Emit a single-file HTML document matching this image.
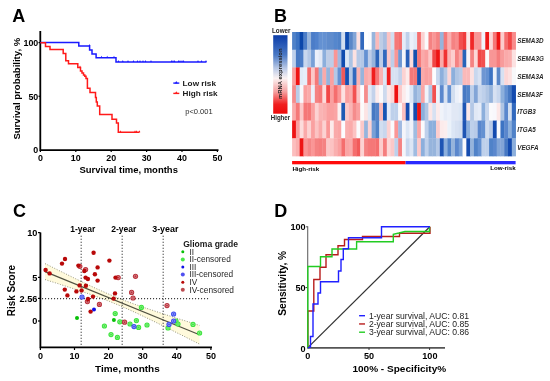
<!DOCTYPE html>
<html><head><meta charset="utf-8"><style>
html,body{margin:0;padding:0;background:#fff;}
svg{display:block;will-change:transform;}
text{font-family:"Liberation Sans",sans-serif;}
</style></head><body>
<svg width="550" height="381" viewBox="0 0 550 381">
<rect width="550" height="381" fill="#fff"/>
<text x="12.2" y="22.3" font-size="18" font-weight="bold" text-anchor="start" fill="#000" >A</text>
<path d="M40.3,31 V150.1 H218.5" fill="none" stroke="#000" stroke-width="1.8"/>
<path d="M38.5,42.6 H40.3" stroke="#000" stroke-width="1.2"/>
<path d="M38.5,96.3 H40.3" stroke="#000" stroke-width="1.2"/>
<path d="M40.4,150 V152" stroke="#000" stroke-width="1.2"/>
<path d="M75.8,150 V152" stroke="#000" stroke-width="1.2"/>
<path d="M111.2,150 V152" stroke="#000" stroke-width="1.2"/>
<path d="M146.6,150 V152" stroke="#000" stroke-width="1.2"/>
<path d="M182.0,150 V152" stroke="#000" stroke-width="1.2"/>
<path d="M217.4,150 V152" stroke="#000" stroke-width="1.2"/>
<text x="38.3" y="45.800000000000004" font-size="8.9" font-weight="bold" text-anchor="end" fill="#000" >100</text>
<text x="38.3" y="99.8" font-size="8.9" font-weight="bold" text-anchor="end" fill="#000" >50</text>
<text x="38.3" y="153.2" font-size="8.9" font-weight="bold" text-anchor="end" fill="#000" >0</text>
<text x="40.4" y="160.7" font-size="8.9" font-weight="bold" text-anchor="middle" fill="#000" >0</text>
<text x="75.8" y="160.7" font-size="8.9" font-weight="bold" text-anchor="middle" fill="#000" >10</text>
<text x="111.2" y="160.7" font-size="8.9" font-weight="bold" text-anchor="middle" fill="#000" >20</text>
<text x="146.6" y="160.7" font-size="8.9" font-weight="bold" text-anchor="middle" fill="#000" >30</text>
<text x="182.0" y="160.7" font-size="8.9" font-weight="bold" text-anchor="middle" fill="#000" >40</text>
<text x="217.4" y="160.7" font-size="8.9" font-weight="bold" text-anchor="middle" fill="#000" >50</text>
<text x="79.5" y="172.5" font-size="9.6" font-weight="bold" text-anchor="start" fill="#000" textLength="98.4" lengthAdjust="spacingAndGlyphs" >Survival time, months</text>
<text transform="translate(19.8,139.6) rotate(-90)" font-size="9.8" font-weight="bold" textLength="101.8" lengthAdjust="spacingAndGlyphs">Survival probability, %</text>
<path d="M40.4,42.6 H78.8 V46 H89.6 V50 H92 V54 H96.1 V57.8 H116 V62.1 H206.5" fill="none" stroke="#1a1aff" stroke-width="1.5"/>
<path d="M40.4,42.7 H45.5 V46.5 H50 V49.5 H63.2 V53.5 H65.8 V60.8 H68.5 V63.8 H77.8 V67.5 H80.5 V71 H82 V73 H83.5 V75 H84.8 V76.3 H86 V78.5 H87.4 V88.3 H90 V92.5 H95.5 V97.5 H96.3 V102 H97.3 V106 H99.7 V114.5 H112 V119.2 H116.5 V123 H118.3 V132.2 H139.5" fill="none" stroke="#ff1a1a" stroke-width="1.5"/>
<path d="M88.6,46 L89.5,44 L90.4,46Z" fill="#1a1aff"/>
<path d="M100.6,57.8 L101.5,55.8 L102.4,57.8Z" fill="#1a1aff"/>
<path d="M106.3,57.8 L107.2,55.8 L108.10000000000001,57.8Z" fill="#1a1aff"/>
<path d="M113.1,57.8 L114,55.8 L114.9,57.8Z" fill="#1a1aff"/>
<path d="M117.6,62.1 L118.5,60.0 L119.4,62.1Z" fill="#1a1aff"/>
<path d="M121.89999999999999,62.1 L122.8,60.0 L123.7,62.1Z" fill="#1a1aff"/>
<path d="M127.1,62.1 L128,60.0 L128.9,62.1Z" fill="#1a1aff"/>
<path d="M132.6,62.1 L133.5,60.0 L134.4,62.1Z" fill="#1a1aff"/>
<path d="M136.6,62.1 L137.5,60.0 L138.4,62.1Z" fill="#1a1aff"/>
<path d="M139.1,62.1 L140,60.0 L140.9,62.1Z" fill="#1a1aff"/>
<path d="M142.1,62.1 L143,60.0 L143.9,62.1Z" fill="#1a1aff"/>
<path d="M144.6,62.1 L145.5,60.0 L146.4,62.1Z" fill="#1a1aff"/>
<path d="M150.1,62.1 L151,60.0 L151.9,62.1Z" fill="#1a1aff"/>
<path d="M170.6,62.1 L171.5,60.0 L172.4,62.1Z" fill="#1a1aff"/>
<path d="M172.1,62.1 L173,60.0 L173.9,62.1Z" fill="#1a1aff"/>
<path d="M173.6,62.1 L174.5,60.0 L175.4,62.1Z" fill="#1a1aff"/>
<path d="M177.6,62.1 L178.5,60.0 L179.4,62.1Z" fill="#1a1aff"/>
<path d="M179.1,62.1 L180,60.0 L180.9,62.1Z" fill="#1a1aff"/>
<path d="M181.1,62.1 L182,60.0 L182.9,62.1Z" fill="#1a1aff"/>
<path d="M182.6,62.1 L183.5,60.0 L184.4,62.1Z" fill="#1a1aff"/>
<path d="M197.1,62.1 L198,60.0 L198.9,62.1Z" fill="#1a1aff"/>
<path d="M200.6,62.1 L201.5,60.0 L202.4,62.1Z" fill="#1a1aff"/>
<path d="M205.1,62.1 L206,60.0 L206.9,62.1Z" fill="#1a1aff"/>
<path d="M79.1,67.5 L80,65.5 L80.9,67.5Z" fill="#ff1a1a"/>
<path d="M119.6,132.2 L120.5,130.2 L121.4,132.2Z" fill="#ff1a1a"/>
<path d="M134.1,132.2 L135,130.2 L135.9,132.2Z" fill="#ff1a1a"/>
<path d="M135.6,132.2 L136.5,130.2 L137.4,132.2Z" fill="#ff1a1a"/>
<path d="M138.6,132.2 L139.5,130.2 L140.4,132.2Z" fill="#ff1a1a"/>
<path d="M173.3,83.1 H179.3" stroke="#1a1aff" stroke-width="1.4"/><path d="M174.8,83.4 L176.3,80.9 L177.8,83.4Z" fill="#1a1aff"/>
<path d="M173.3,93.4 H179.3" stroke="#ff1a1a" stroke-width="1.4"/><path d="M174.8,93.7 L176.3,91.2 L177.8,93.7Z" fill="#ff1a1a"/>
<text x="182.6" y="85.9" font-size="8.1" font-weight="bold" text-anchor="start" fill="#1a1a1a" textLength="33.4" lengthAdjust="spacingAndGlyphs" >Low risk</text>
<text x="182.6" y="96" font-size="8.1" font-weight="bold" text-anchor="start" fill="#1a1a1a" textLength="34.9" lengthAdjust="spacingAndGlyphs" >High risk</text>
<text x="185.2" y="114.2" font-size="6.9" font-weight="normal" text-anchor="start" fill="#2a2a2a" textLength="27.5" lengthAdjust="spacingAndGlyphs" >p&lt;0.001</text>
<text x="274.0" y="22.4" font-size="18" font-weight="bold" text-anchor="start" fill="#000" >B</text>
<rect x="292.10" y="32.00" width="4.14" height="18.06" fill="rgb(80, 130, 200)"/>
<rect x="295.89" y="32.00" width="4.14" height="18.06" fill="rgb(60, 115, 195)"/>
<rect x="299.68" y="32.00" width="4.14" height="18.06" fill="rgb(10, 70, 170)"/>
<rect x="303.46" y="32.00" width="4.14" height="18.06" fill="rgb(75, 125, 200)"/>
<rect x="307.25" y="32.00" width="4.14" height="18.06" fill="rgb(150, 180, 220)"/>
<rect x="311.04" y="32.00" width="4.14" height="18.06" fill="rgb(75, 125, 200)"/>
<rect x="314.83" y="32.00" width="4.14" height="18.06" fill="rgb(80, 130, 205)"/>
<rect x="318.62" y="32.00" width="4.14" height="18.06" fill="rgb(100, 145, 210)"/>
<rect x="322.41" y="32.00" width="4.14" height="18.06" fill="rgb(100, 145, 210)"/>
<rect x="326.19" y="32.00" width="4.14" height="18.06" fill="rgb(95, 140, 205)"/>
<rect x="329.98" y="32.00" width="4.14" height="18.06" fill="rgb(95, 140, 205)"/>
<rect x="333.77" y="32.00" width="4.14" height="18.06" fill="rgb(85, 135, 205)"/>
<rect x="337.56" y="32.00" width="4.14" height="18.06" fill="rgb(80, 130, 200)"/>
<rect x="341.35" y="32.00" width="4.14" height="18.06" fill="rgb(210, 222, 240)"/>
<rect x="345.13" y="32.00" width="4.14" height="18.06" fill="rgb(15, 75, 175)"/>
<rect x="348.92" y="32.00" width="4.14" height="18.06" fill="rgb(90, 135, 200)"/>
<rect x="352.71" y="32.00" width="4.14" height="18.06" fill="rgb(130, 165, 215)"/>
<rect x="356.50" y="32.00" width="4.14" height="18.06" fill="rgb(252, 225, 225)"/>
<rect x="360.29" y="32.00" width="4.14" height="18.06" fill="rgb(50, 105, 190)"/>
<rect x="364.07" y="32.00" width="4.14" height="18.06" fill="rgb(255, 255, 255)"/>
<rect x="367.86" y="32.00" width="4.14" height="18.06" fill="rgb(250, 252, 255)"/>
<rect x="371.65" y="32.00" width="4.14" height="18.06" fill="rgb(150, 180, 220)"/>
<rect x="375.44" y="32.00" width="4.14" height="18.06" fill="rgb(250, 185, 185)"/>
<rect x="379.23" y="32.00" width="4.14" height="18.06" fill="rgb(190, 205, 230)"/>
<rect x="383.02" y="32.00" width="4.14" height="18.06" fill="rgb(170, 190, 225)"/>
<rect x="386.80" y="32.00" width="4.14" height="18.06" fill="rgb(252, 195, 195)"/>
<rect x="390.59" y="32.00" width="4.14" height="18.06" fill="rgb(210, 222, 240)"/>
<rect x="394.38" y="32.00" width="4.14" height="18.06" fill="rgb(245, 120, 120)"/>
<rect x="398.17" y="32.00" width="4.14" height="18.06" fill="rgb(245, 110, 110)"/>
<rect x="401.96" y="32.00" width="4.14" height="18.06" fill="rgb(230, 235, 248)"/>
<rect x="405.74" y="32.00" width="4.14" height="18.06" fill="rgb(190, 208, 235)"/>
<rect x="409.53" y="32.00" width="4.14" height="18.06" fill="rgb(235, 240, 250)"/>
<rect x="413.32" y="32.00" width="4.14" height="18.06" fill="rgb(225, 232, 245)"/>
<rect x="417.11" y="32.00" width="4.14" height="18.06" fill="rgb(245, 110, 110)"/>
<rect x="420.90" y="32.00" width="4.14" height="18.06" fill="rgb(252, 210, 210)"/>
<rect x="424.68" y="32.00" width="4.14" height="18.06" fill="rgb(250, 250, 252)"/>
<rect x="428.47" y="32.00" width="4.14" height="18.06" fill="rgb(245, 130, 130)"/>
<rect x="432.26" y="32.00" width="4.14" height="18.06" fill="rgb(248, 150, 150)"/>
<rect x="436.05" y="32.00" width="4.14" height="18.06" fill="rgb(245, 130, 130)"/>
<rect x="439.84" y="32.00" width="4.14" height="18.06" fill="rgb(150, 180, 220)"/>
<rect x="443.63" y="32.00" width="4.14" height="18.06" fill="rgb(245, 120, 120)"/>
<rect x="447.41" y="32.00" width="4.14" height="18.06" fill="rgb(250, 175, 175)"/>
<rect x="451.20" y="32.00" width="4.14" height="18.06" fill="rgb(245, 130, 130)"/>
<rect x="454.99" y="32.00" width="4.14" height="18.06" fill="rgb(248, 140, 140)"/>
<rect x="458.78" y="32.00" width="4.14" height="18.06" fill="rgb(242, 80, 80)"/>
<rect x="462.57" y="32.00" width="4.14" height="18.06" fill="rgb(240, 60, 60)"/>
<rect x="466.35" y="32.00" width="4.14" height="18.06" fill="rgb(252, 230, 230)"/>
<rect x="470.14" y="32.00" width="4.14" height="18.06" fill="rgb(240, 40, 40)"/>
<rect x="473.93" y="32.00" width="4.14" height="18.06" fill="rgb(248, 150, 150)"/>
<rect x="477.72" y="32.00" width="4.14" height="18.06" fill="rgb(248, 150, 150)"/>
<rect x="481.51" y="32.00" width="4.14" height="18.06" fill="rgb(240, 245, 252)"/>
<rect x="485.29" y="32.00" width="4.14" height="18.06" fill="rgb(238, 25, 25)"/>
<rect x="489.08" y="32.00" width="4.14" height="18.06" fill="rgb(252, 215, 215)"/>
<rect x="492.87" y="32.00" width="4.14" height="18.06" fill="rgb(245, 120, 120)"/>
<rect x="496.66" y="32.00" width="4.14" height="18.06" fill="rgb(238, 20, 20)"/>
<rect x="500.45" y="32.00" width="4.14" height="18.06" fill="rgb(252, 205, 205)"/>
<rect x="504.24" y="32.00" width="4.14" height="18.06" fill="rgb(245, 110, 110)"/>
<rect x="508.02" y="32.00" width="4.14" height="18.06" fill="rgb(242, 70, 70)"/>
<rect x="511.81" y="32.00" width="4.14" height="18.06" fill="rgb(248, 140, 140)"/>
<rect x="292.10" y="49.71" width="4.14" height="18.06" fill="rgb(190, 208, 235)"/>
<rect x="295.89" y="49.71" width="4.14" height="18.06" fill="rgb(70, 120, 195)"/>
<rect x="299.68" y="49.71" width="4.14" height="18.06" fill="rgb(75, 125, 200)"/>
<rect x="303.46" y="49.71" width="4.14" height="18.06" fill="rgb(200, 215, 238)"/>
<rect x="307.25" y="49.71" width="4.14" height="18.06" fill="rgb(180, 200, 230)"/>
<rect x="311.04" y="49.71" width="4.14" height="18.06" fill="rgb(120, 160, 215)"/>
<rect x="314.83" y="49.71" width="4.14" height="18.06" fill="rgb(235, 240, 250)"/>
<rect x="318.62" y="49.71" width="4.14" height="18.06" fill="rgb(225, 232, 245)"/>
<rect x="322.41" y="49.71" width="4.14" height="18.06" fill="rgb(140, 175, 220)"/>
<rect x="326.19" y="49.71" width="4.14" height="18.06" fill="rgb(190, 205, 230)"/>
<rect x="329.98" y="49.71" width="4.14" height="18.06" fill="rgb(190, 205, 232)"/>
<rect x="333.77" y="49.71" width="4.14" height="18.06" fill="rgb(250, 150, 150)"/>
<rect x="337.56" y="49.71" width="4.14" height="18.06" fill="rgb(160, 185, 225)"/>
<rect x="341.35" y="49.71" width="4.14" height="18.06" fill="rgb(15, 75, 175)"/>
<rect x="345.13" y="49.71" width="4.14" height="18.06" fill="rgb(220, 230, 245)"/>
<rect x="348.92" y="49.71" width="4.14" height="18.06" fill="rgb(170, 195, 228)"/>
<rect x="352.71" y="49.71" width="4.14" height="18.06" fill="rgb(252, 225, 225)"/>
<rect x="356.50" y="49.71" width="4.14" height="18.06" fill="rgb(180, 200, 230)"/>
<rect x="360.29" y="49.71" width="4.14" height="18.06" fill="rgb(180, 200, 230)"/>
<rect x="364.07" y="49.71" width="4.14" height="18.06" fill="rgb(100, 145, 210)"/>
<rect x="367.86" y="49.71" width="4.14" height="18.06" fill="rgb(190, 205, 232)"/>
<rect x="371.65" y="49.71" width="4.14" height="18.06" fill="rgb(150, 180, 220)"/>
<rect x="375.44" y="49.71" width="4.14" height="18.06" fill="rgb(45, 100, 185)"/>
<rect x="379.23" y="49.71" width="4.14" height="18.06" fill="rgb(190, 205, 232)"/>
<rect x="383.02" y="49.71" width="4.14" height="18.06" fill="rgb(50, 105, 190)"/>
<rect x="386.80" y="49.71" width="4.14" height="18.06" fill="rgb(252, 200, 200)"/>
<rect x="390.59" y="49.71" width="4.14" height="18.06" fill="rgb(190, 205, 232)"/>
<rect x="394.38" y="49.71" width="4.14" height="18.06" fill="rgb(248, 150, 150)"/>
<rect x="398.17" y="49.71" width="4.14" height="18.06" fill="rgb(110, 150, 210)"/>
<rect x="401.96" y="49.71" width="4.14" height="18.06" fill="rgb(245, 245, 250)"/>
<rect x="405.74" y="49.71" width="4.14" height="18.06" fill="rgb(40, 95, 185)"/>
<rect x="409.53" y="49.71" width="4.14" height="18.06" fill="rgb(252, 220, 220)"/>
<rect x="413.32" y="49.71" width="4.14" height="18.06" fill="rgb(20, 80, 175)"/>
<rect x="417.11" y="49.71" width="4.14" height="18.06" fill="rgb(245, 120, 120)"/>
<rect x="420.90" y="49.71" width="4.14" height="18.06" fill="rgb(250, 170, 170)"/>
<rect x="424.68" y="49.71" width="4.14" height="18.06" fill="rgb(250, 160, 160)"/>
<rect x="428.47" y="49.71" width="4.14" height="18.06" fill="rgb(252, 200, 200)"/>
<rect x="432.26" y="49.71" width="4.14" height="18.06" fill="rgb(240, 70, 70)"/>
<rect x="436.05" y="49.71" width="4.14" height="18.06" fill="rgb(238, 20, 20)"/>
<rect x="439.84" y="49.71" width="4.14" height="18.06" fill="rgb(250, 170, 170)"/>
<rect x="443.63" y="49.71" width="4.14" height="18.06" fill="rgb(240, 50, 50)"/>
<rect x="447.41" y="49.71" width="4.14" height="18.06" fill="rgb(250, 180, 180)"/>
<rect x="451.20" y="49.71" width="4.14" height="18.06" fill="rgb(252, 205, 205)"/>
<rect x="454.99" y="49.71" width="4.14" height="18.06" fill="rgb(245, 130, 130)"/>
<rect x="458.78" y="49.71" width="4.14" height="18.06" fill="rgb(250, 165, 165)"/>
<rect x="462.57" y="49.71" width="4.14" height="18.06" fill="rgb(40, 100, 185)"/>
<rect x="466.35" y="49.71" width="4.14" height="18.06" fill="rgb(248, 245, 248)"/>
<rect x="470.14" y="49.71" width="4.14" height="18.06" fill="rgb(245, 130, 130)"/>
<rect x="473.93" y="49.71" width="4.14" height="18.06" fill="rgb(252, 215, 215)"/>
<rect x="477.72" y="49.71" width="4.14" height="18.06" fill="rgb(240, 70, 70)"/>
<rect x="481.51" y="49.71" width="4.14" height="18.06" fill="rgb(242, 80, 80)"/>
<rect x="485.29" y="49.71" width="4.14" height="18.06" fill="rgb(250, 250, 252)"/>
<rect x="489.08" y="49.71" width="4.14" height="18.06" fill="rgb(248, 150, 150)"/>
<rect x="492.87" y="49.71" width="4.14" height="18.06" fill="rgb(248, 150, 150)"/>
<rect x="496.66" y="49.71" width="4.14" height="18.06" fill="rgb(245, 125, 125)"/>
<rect x="500.45" y="49.71" width="4.14" height="18.06" fill="rgb(248, 155, 155)"/>
<rect x="504.24" y="49.71" width="4.14" height="18.06" fill="rgb(250, 170, 170)"/>
<rect x="508.02" y="49.71" width="4.14" height="18.06" fill="rgb(250, 175, 175)"/>
<rect x="511.81" y="49.71" width="4.14" height="18.06" fill="rgb(252, 225, 225)"/>
<rect x="292.10" y="67.43" width="4.14" height="18.06" fill="rgb(250, 160, 160)"/>
<rect x="295.89" y="67.43" width="4.14" height="18.06" fill="rgb(240, 20, 20)"/>
<rect x="299.68" y="67.43" width="4.14" height="18.06" fill="rgb(225, 235, 248)"/>
<rect x="303.46" y="67.43" width="4.14" height="18.06" fill="rgb(230, 238, 250)"/>
<rect x="307.25" y="67.43" width="4.14" height="18.06" fill="rgb(245, 110, 110)"/>
<rect x="311.04" y="67.43" width="4.14" height="18.06" fill="rgb(252, 200, 200)"/>
<rect x="314.83" y="67.43" width="4.14" height="18.06" fill="rgb(245, 120, 120)"/>
<rect x="318.62" y="67.43" width="4.14" height="18.06" fill="rgb(150, 180, 220)"/>
<rect x="322.41" y="67.43" width="4.14" height="18.06" fill="rgb(250, 170, 170)"/>
<rect x="326.19" y="67.43" width="4.14" height="18.06" fill="rgb(150, 180, 220)"/>
<rect x="329.98" y="67.43" width="4.14" height="18.06" fill="rgb(250, 160, 160)"/>
<rect x="333.77" y="67.43" width="4.14" height="18.06" fill="rgb(180, 200, 230)"/>
<rect x="337.56" y="67.43" width="4.14" height="18.06" fill="rgb(100, 145, 210)"/>
<rect x="341.35" y="67.43" width="4.14" height="18.06" fill="rgb(240, 90, 90)"/>
<rect x="345.13" y="67.43" width="4.14" height="18.06" fill="rgb(20, 80, 180)"/>
<rect x="348.92" y="67.43" width="4.14" height="18.06" fill="rgb(180, 200, 230)"/>
<rect x="352.71" y="67.43" width="4.14" height="18.06" fill="rgb(50, 105, 190)"/>
<rect x="356.50" y="67.43" width="4.14" height="18.06" fill="rgb(250, 180, 180)"/>
<rect x="360.29" y="67.43" width="4.14" height="18.06" fill="rgb(150, 180, 220)"/>
<rect x="364.07" y="67.43" width="4.14" height="18.06" fill="rgb(250, 170, 170)"/>
<rect x="367.86" y="67.43" width="4.14" height="18.06" fill="rgb(250, 180, 180)"/>
<rect x="371.65" y="67.43" width="4.14" height="18.06" fill="rgb(240, 30, 30)"/>
<rect x="375.44" y="67.43" width="4.14" height="18.06" fill="rgb(245, 120, 120)"/>
<rect x="379.23" y="67.43" width="4.14" height="18.06" fill="rgb(250, 180, 180)"/>
<rect x="383.02" y="67.43" width="4.14" height="18.06" fill="rgb(220, 230, 245)"/>
<rect x="386.80" y="67.43" width="4.14" height="18.06" fill="rgb(240, 30, 30)"/>
<rect x="390.59" y="67.43" width="4.14" height="18.06" fill="rgb(215, 225, 242)"/>
<rect x="394.38" y="67.43" width="4.14" height="18.06" fill="rgb(215, 225, 242)"/>
<rect x="398.17" y="67.43" width="4.14" height="18.06" fill="rgb(195, 210, 235)"/>
<rect x="401.96" y="67.43" width="4.14" height="18.06" fill="rgb(252, 210, 210)"/>
<rect x="405.74" y="67.43" width="4.14" height="18.06" fill="rgb(252, 235, 235)"/>
<rect x="409.53" y="67.43" width="4.14" height="18.06" fill="rgb(245, 120, 120)"/>
<rect x="413.32" y="67.43" width="4.14" height="18.06" fill="rgb(245, 120, 120)"/>
<rect x="417.11" y="67.43" width="4.14" height="18.06" fill="rgb(20, 80, 175)"/>
<rect x="420.90" y="67.43" width="4.14" height="18.06" fill="rgb(250, 170, 170)"/>
<rect x="424.68" y="67.43" width="4.14" height="18.06" fill="rgb(250, 160, 160)"/>
<rect x="428.47" y="67.43" width="4.14" height="18.06" fill="rgb(250, 165, 165)"/>
<rect x="432.26" y="67.43" width="4.14" height="18.06" fill="rgb(252, 252, 255)"/>
<rect x="436.05" y="67.43" width="4.14" height="18.06" fill="rgb(200, 215, 238)"/>
<rect x="439.84" y="67.43" width="4.14" height="18.06" fill="rgb(140, 175, 220)"/>
<rect x="443.63" y="67.43" width="4.14" height="18.06" fill="rgb(180, 200, 230)"/>
<rect x="447.41" y="67.43" width="4.14" height="18.06" fill="rgb(252, 215, 215)"/>
<rect x="451.20" y="67.43" width="4.14" height="18.06" fill="rgb(140, 175, 220)"/>
<rect x="454.99" y="67.43" width="4.14" height="18.06" fill="rgb(175, 197, 228)"/>
<rect x="458.78" y="67.43" width="4.14" height="18.06" fill="rgb(185, 203, 232)"/>
<rect x="462.57" y="67.43" width="4.14" height="18.06" fill="rgb(250, 185, 185)"/>
<rect x="466.35" y="67.43" width="4.14" height="18.06" fill="rgb(250, 185, 185)"/>
<rect x="470.14" y="67.43" width="4.14" height="18.06" fill="rgb(252, 225, 225)"/>
<rect x="473.93" y="67.43" width="4.14" height="18.06" fill="rgb(200, 215, 238)"/>
<rect x="477.72" y="67.43" width="4.14" height="18.06" fill="rgb(215, 225, 242)"/>
<rect x="481.51" y="67.43" width="4.14" height="18.06" fill="rgb(110, 150, 210)"/>
<rect x="485.29" y="67.43" width="4.14" height="18.06" fill="rgb(100, 145, 210)"/>
<rect x="489.08" y="67.43" width="4.14" height="18.06" fill="rgb(60, 115, 195)"/>
<rect x="492.87" y="67.43" width="4.14" height="18.06" fill="rgb(235, 240, 250)"/>
<rect x="496.66" y="67.43" width="4.14" height="18.06" fill="rgb(90, 135, 200)"/>
<rect x="500.45" y="67.43" width="4.14" height="18.06" fill="rgb(215, 225, 242)"/>
<rect x="504.24" y="67.43" width="4.14" height="18.06" fill="rgb(252, 215, 215)"/>
<rect x="508.02" y="67.43" width="4.14" height="18.06" fill="rgb(252, 225, 225)"/>
<rect x="511.81" y="67.43" width="4.14" height="18.06" fill="rgb(248, 248, 250)"/>
<rect x="292.10" y="85.14" width="4.14" height="18.06" fill="rgb(245, 140, 140)"/>
<rect x="295.89" y="85.14" width="4.14" height="18.06" fill="rgb(185, 205, 232)"/>
<rect x="299.68" y="85.14" width="4.14" height="18.06" fill="rgb(248, 248, 252)"/>
<rect x="303.46" y="85.14" width="4.14" height="18.06" fill="rgb(250, 160, 160)"/>
<rect x="307.25" y="85.14" width="4.14" height="18.06" fill="rgb(250, 170, 170)"/>
<rect x="311.04" y="85.14" width="4.14" height="18.06" fill="rgb(235, 240, 250)"/>
<rect x="314.83" y="85.14" width="4.14" height="18.06" fill="rgb(245, 130, 130)"/>
<rect x="318.62" y="85.14" width="4.14" height="18.06" fill="rgb(245, 120, 120)"/>
<rect x="322.41" y="85.14" width="4.14" height="18.06" fill="rgb(252, 220, 220)"/>
<rect x="326.19" y="85.14" width="4.14" height="18.06" fill="rgb(242, 70, 70)"/>
<rect x="329.98" y="85.14" width="4.14" height="18.06" fill="rgb(250, 160, 160)"/>
<rect x="333.77" y="85.14" width="4.14" height="18.06" fill="rgb(245, 110, 110)"/>
<rect x="337.56" y="85.14" width="4.14" height="18.06" fill="rgb(250, 150, 150)"/>
<rect x="341.35" y="85.14" width="4.14" height="18.06" fill="rgb(252, 225, 225)"/>
<rect x="345.13" y="85.14" width="4.14" height="18.06" fill="rgb(250, 160, 160)"/>
<rect x="348.92" y="85.14" width="4.14" height="18.06" fill="rgb(250, 170, 170)"/>
<rect x="352.71" y="85.14" width="4.14" height="18.06" fill="rgb(242, 80, 80)"/>
<rect x="356.50" y="85.14" width="4.14" height="18.06" fill="rgb(252, 195, 195)"/>
<rect x="360.29" y="85.14" width="4.14" height="18.06" fill="rgb(252, 252, 255)"/>
<rect x="364.07" y="85.14" width="4.14" height="18.06" fill="rgb(245, 140, 140)"/>
<rect x="367.86" y="85.14" width="4.14" height="18.06" fill="rgb(225, 232, 245)"/>
<rect x="371.65" y="85.14" width="4.14" height="18.06" fill="rgb(195, 210, 235)"/>
<rect x="375.44" y="85.14" width="4.14" height="18.06" fill="rgb(252, 235, 235)"/>
<rect x="379.23" y="85.14" width="4.14" height="18.06" fill="rgb(250, 250, 252)"/>
<rect x="383.02" y="85.14" width="4.14" height="18.06" fill="rgb(205, 218, 238)"/>
<rect x="386.80" y="85.14" width="4.14" height="18.06" fill="rgb(252, 232, 232)"/>
<rect x="390.59" y="85.14" width="4.14" height="18.06" fill="rgb(252, 215, 215)"/>
<rect x="394.38" y="85.14" width="4.14" height="18.06" fill="rgb(238, 15, 15)"/>
<rect x="398.17" y="85.14" width="4.14" height="18.06" fill="rgb(252, 200, 200)"/>
<rect x="401.96" y="85.14" width="4.14" height="18.06" fill="rgb(252, 235, 235)"/>
<rect x="405.74" y="85.14" width="4.14" height="18.06" fill="rgb(248, 248, 252)"/>
<rect x="409.53" y="85.14" width="4.14" height="18.06" fill="rgb(220, 230, 245)"/>
<rect x="413.32" y="85.14" width="4.14" height="18.06" fill="rgb(150, 180, 220)"/>
<rect x="417.11" y="85.14" width="4.14" height="18.06" fill="rgb(170, 195, 228)"/>
<rect x="420.90" y="85.14" width="4.14" height="18.06" fill="rgb(250, 165, 165)"/>
<rect x="424.68" y="85.14" width="4.14" height="18.06" fill="rgb(240, 242, 250)"/>
<rect x="428.47" y="85.14" width="4.14" height="18.06" fill="rgb(180, 200, 230)"/>
<rect x="432.26" y="85.14" width="4.14" height="18.06" fill="rgb(242, 80, 80)"/>
<rect x="436.05" y="85.14" width="4.14" height="18.06" fill="rgb(240, 242, 250)"/>
<rect x="439.84" y="85.14" width="4.14" height="18.06" fill="rgb(90, 135, 205)"/>
<rect x="443.63" y="85.14" width="4.14" height="18.06" fill="rgb(215, 225, 242)"/>
<rect x="447.41" y="85.14" width="4.14" height="18.06" fill="rgb(100, 145, 210)"/>
<rect x="451.20" y="85.14" width="4.14" height="18.06" fill="rgb(210, 222, 240)"/>
<rect x="454.99" y="85.14" width="4.14" height="18.06" fill="rgb(235, 240, 250)"/>
<rect x="458.78" y="85.14" width="4.14" height="18.06" fill="rgb(245, 245, 250)"/>
<rect x="462.57" y="85.14" width="4.14" height="18.06" fill="rgb(70, 120, 195)"/>
<rect x="466.35" y="85.14" width="4.14" height="18.06" fill="rgb(80, 130, 200)"/>
<rect x="470.14" y="85.14" width="4.14" height="18.06" fill="rgb(190, 208, 235)"/>
<rect x="473.93" y="85.14" width="4.14" height="18.06" fill="rgb(130, 165, 215)"/>
<rect x="477.72" y="85.14" width="4.14" height="18.06" fill="rgb(200, 215, 238)"/>
<rect x="481.51" y="85.14" width="4.14" height="18.06" fill="rgb(190, 208, 235)"/>
<rect x="485.29" y="85.14" width="4.14" height="18.06" fill="rgb(175, 197, 228)"/>
<rect x="489.08" y="85.14" width="4.14" height="18.06" fill="rgb(150, 180, 220)"/>
<rect x="492.87" y="85.14" width="4.14" height="18.06" fill="rgb(215, 225, 242)"/>
<rect x="496.66" y="85.14" width="4.14" height="18.06" fill="rgb(200, 215, 238)"/>
<rect x="500.45" y="85.14" width="4.14" height="18.06" fill="rgb(140, 175, 220)"/>
<rect x="504.24" y="85.14" width="4.14" height="18.06" fill="rgb(100, 145, 210)"/>
<rect x="508.02" y="85.14" width="4.14" height="18.06" fill="rgb(70, 120, 195)"/>
<rect x="511.81" y="85.14" width="4.14" height="18.06" fill="rgb(20, 75, 175)"/>
<rect x="292.10" y="102.86" width="4.14" height="18.06" fill="rgb(250, 170, 170)"/>
<rect x="295.89" y="102.86" width="4.14" height="18.06" fill="rgb(245, 120, 120)"/>
<rect x="299.68" y="102.86" width="4.14" height="18.06" fill="rgb(252, 200, 200)"/>
<rect x="303.46" y="102.86" width="4.14" height="18.06" fill="rgb(245, 120, 120)"/>
<rect x="307.25" y="102.86" width="4.14" height="18.06" fill="rgb(245, 120, 120)"/>
<rect x="311.04" y="102.86" width="4.14" height="18.06" fill="rgb(250, 160, 160)"/>
<rect x="314.83" y="102.86" width="4.14" height="18.06" fill="rgb(252, 210, 210)"/>
<rect x="318.62" y="102.86" width="4.14" height="18.06" fill="rgb(250, 180, 180)"/>
<rect x="322.41" y="102.86" width="4.14" height="18.06" fill="rgb(250, 175, 175)"/>
<rect x="326.19" y="102.86" width="4.14" height="18.06" fill="rgb(250, 160, 160)"/>
<rect x="329.98" y="102.86" width="4.14" height="18.06" fill="rgb(250, 160, 160)"/>
<rect x="333.77" y="102.86" width="4.14" height="18.06" fill="rgb(250, 165, 165)"/>
<rect x="337.56" y="102.86" width="4.14" height="18.06" fill="rgb(252, 240, 240)"/>
<rect x="341.35" y="102.86" width="4.14" height="18.06" fill="rgb(30, 90, 180)"/>
<rect x="345.13" y="102.86" width="4.14" height="18.06" fill="rgb(252, 200, 200)"/>
<rect x="348.92" y="102.86" width="4.14" height="18.06" fill="rgb(250, 180, 180)"/>
<rect x="352.71" y="102.86" width="4.14" height="18.06" fill="rgb(245, 140, 140)"/>
<rect x="356.50" y="102.86" width="4.14" height="18.06" fill="rgb(250, 160, 160)"/>
<rect x="360.29" y="102.86" width="4.14" height="18.06" fill="rgb(252, 250, 250)"/>
<rect x="364.07" y="102.86" width="4.14" height="18.06" fill="rgb(252, 228, 228)"/>
<rect x="367.86" y="102.86" width="4.14" height="18.06" fill="rgb(225, 232, 245)"/>
<rect x="371.65" y="102.86" width="4.14" height="18.06" fill="rgb(70, 120, 195)"/>
<rect x="375.44" y="102.86" width="4.14" height="18.06" fill="rgb(85, 130, 200)"/>
<rect x="379.23" y="102.86" width="4.14" height="18.06" fill="rgb(250, 185, 185)"/>
<rect x="383.02" y="102.86" width="4.14" height="18.06" fill="rgb(25, 85, 180)"/>
<rect x="386.80" y="102.86" width="4.14" height="18.06" fill="rgb(230, 235, 248)"/>
<rect x="390.59" y="102.86" width="4.14" height="18.06" fill="rgb(190, 208, 235)"/>
<rect x="394.38" y="102.86" width="4.14" height="18.06" fill="rgb(190, 208, 235)"/>
<rect x="398.17" y="102.86" width="4.14" height="18.06" fill="rgb(250, 248, 250)"/>
<rect x="401.96" y="102.86" width="4.14" height="18.06" fill="rgb(250, 190, 190)"/>
<rect x="405.74" y="102.86" width="4.14" height="18.06" fill="rgb(20, 75, 175)"/>
<rect x="409.53" y="102.86" width="4.14" height="18.06" fill="rgb(238, 242, 250)"/>
<rect x="413.32" y="102.86" width="4.14" height="18.06" fill="rgb(20, 75, 175)"/>
<rect x="417.11" y="102.86" width="4.14" height="18.06" fill="rgb(235, 20, 20)"/>
<rect x="420.90" y="102.86" width="4.14" height="18.06" fill="rgb(140, 175, 220)"/>
<rect x="424.68" y="102.86" width="4.14" height="18.06" fill="rgb(175, 197, 228)"/>
<rect x="428.47" y="102.86" width="4.14" height="18.06" fill="rgb(252, 230, 230)"/>
<rect x="432.26" y="102.86" width="4.14" height="18.06" fill="rgb(215, 225, 242)"/>
<rect x="436.05" y="102.86" width="4.14" height="18.06" fill="rgb(252, 235, 235)"/>
<rect x="439.84" y="102.86" width="4.14" height="18.06" fill="rgb(240, 243, 250)"/>
<rect x="443.63" y="102.86" width="4.14" height="18.06" fill="rgb(230, 236, 248)"/>
<rect x="447.41" y="102.86" width="4.14" height="18.06" fill="rgb(235, 240, 250)"/>
<rect x="451.20" y="102.86" width="4.14" height="18.06" fill="rgb(225, 232, 245)"/>
<rect x="454.99" y="102.86" width="4.14" height="18.06" fill="rgb(225, 232, 245)"/>
<rect x="458.78" y="102.86" width="4.14" height="18.06" fill="rgb(220, 230, 245)"/>
<rect x="462.57" y="102.86" width="4.14" height="18.06" fill="rgb(30, 85, 180)"/>
<rect x="466.35" y="102.86" width="4.14" height="18.06" fill="rgb(252, 232, 232)"/>
<rect x="470.14" y="102.86" width="4.14" height="18.06" fill="rgb(180, 200, 230)"/>
<rect x="473.93" y="102.86" width="4.14" height="18.06" fill="rgb(225, 232, 245)"/>
<rect x="477.72" y="102.86" width="4.14" height="18.06" fill="rgb(230, 236, 248)"/>
<rect x="481.51" y="102.86" width="4.14" height="18.06" fill="rgb(140, 175, 220)"/>
<rect x="485.29" y="102.86" width="4.14" height="18.06" fill="rgb(200, 215, 238)"/>
<rect x="489.08" y="102.86" width="4.14" height="18.06" fill="rgb(250, 250, 252)"/>
<rect x="492.87" y="102.86" width="4.14" height="18.06" fill="rgb(248, 248, 252)"/>
<rect x="496.66" y="102.86" width="4.14" height="18.06" fill="rgb(252, 232, 232)"/>
<rect x="500.45" y="102.86" width="4.14" height="18.06" fill="rgb(175, 197, 228)"/>
<rect x="504.24" y="102.86" width="4.14" height="18.06" fill="rgb(90, 135, 205)"/>
<rect x="508.02" y="102.86" width="4.14" height="18.06" fill="rgb(210, 222, 240)"/>
<rect x="511.81" y="102.86" width="4.14" height="18.06" fill="rgb(50, 105, 190)"/>
<rect x="292.10" y="120.57" width="4.14" height="18.06" fill="rgb(238, 20, 20)"/>
<rect x="295.89" y="120.57" width="4.14" height="18.06" fill="rgb(250, 160, 160)"/>
<rect x="299.68" y="120.57" width="4.14" height="18.06" fill="rgb(252, 220, 220)"/>
<rect x="303.46" y="120.57" width="4.14" height="18.06" fill="rgb(250, 170, 170)"/>
<rect x="307.25" y="120.57" width="4.14" height="18.06" fill="rgb(252, 210, 210)"/>
<rect x="311.04" y="120.57" width="4.14" height="18.06" fill="rgb(250, 160, 160)"/>
<rect x="314.83" y="120.57" width="4.14" height="18.06" fill="rgb(252, 195, 195)"/>
<rect x="318.62" y="120.57" width="4.14" height="18.06" fill="rgb(250, 170, 170)"/>
<rect x="322.41" y="120.57" width="4.14" height="18.06" fill="rgb(252, 210, 210)"/>
<rect x="326.19" y="120.57" width="4.14" height="18.06" fill="rgb(250, 150, 150)"/>
<rect x="329.98" y="120.57" width="4.14" height="18.06" fill="rgb(252, 235, 235)"/>
<rect x="333.77" y="120.57" width="4.14" height="18.06" fill="rgb(250, 170, 170)"/>
<rect x="337.56" y="120.57" width="4.14" height="18.06" fill="rgb(250, 165, 165)"/>
<rect x="341.35" y="120.57" width="4.14" height="18.06" fill="rgb(252, 252, 255)"/>
<rect x="345.13" y="120.57" width="4.14" height="18.06" fill="rgb(250, 175, 175)"/>
<rect x="348.92" y="120.57" width="4.14" height="18.06" fill="rgb(250, 170, 170)"/>
<rect x="352.71" y="120.57" width="4.14" height="18.06" fill="rgb(252, 195, 195)"/>
<rect x="356.50" y="120.57" width="4.14" height="18.06" fill="rgb(250, 250, 252)"/>
<rect x="360.29" y="120.57" width="4.14" height="18.06" fill="rgb(252, 200, 200)"/>
<rect x="364.07" y="120.57" width="4.14" height="18.06" fill="rgb(150, 180, 220)"/>
<rect x="367.86" y="120.57" width="4.14" height="18.06" fill="rgb(252, 210, 210)"/>
<rect x="371.65" y="120.57" width="4.14" height="18.06" fill="rgb(120, 160, 215)"/>
<rect x="375.44" y="120.57" width="4.14" height="18.06" fill="rgb(80, 130, 200)"/>
<rect x="379.23" y="120.57" width="4.14" height="18.06" fill="rgb(210, 222, 240)"/>
<rect x="383.02" y="120.57" width="4.14" height="18.06" fill="rgb(200, 215, 238)"/>
<rect x="386.80" y="120.57" width="4.14" height="18.06" fill="rgb(252, 210, 210)"/>
<rect x="390.59" y="120.57" width="4.14" height="18.06" fill="rgb(250, 250, 252)"/>
<rect x="394.38" y="120.57" width="4.14" height="18.06" fill="rgb(250, 150, 150)"/>
<rect x="398.17" y="120.57" width="4.14" height="18.06" fill="rgb(160, 185, 225)"/>
<rect x="401.96" y="120.57" width="4.14" height="18.06" fill="rgb(245, 245, 250)"/>
<rect x="405.74" y="120.57" width="4.14" height="18.06" fill="rgb(220, 230, 245)"/>
<rect x="409.53" y="120.57" width="4.14" height="18.06" fill="rgb(240, 242, 250)"/>
<rect x="413.32" y="120.57" width="4.14" height="18.06" fill="rgb(160, 188, 225)"/>
<rect x="417.11" y="120.57" width="4.14" height="18.06" fill="rgb(250, 165, 165)"/>
<rect x="420.90" y="120.57" width="4.14" height="18.06" fill="rgb(250, 250, 252)"/>
<rect x="424.68" y="120.57" width="4.14" height="18.06" fill="rgb(190, 208, 235)"/>
<rect x="428.47" y="120.57" width="4.14" height="18.06" fill="rgb(140, 175, 220)"/>
<rect x="432.26" y="120.57" width="4.14" height="18.06" fill="rgb(140, 175, 220)"/>
<rect x="436.05" y="120.57" width="4.14" height="18.06" fill="rgb(252, 205, 205)"/>
<rect x="439.84" y="120.57" width="4.14" height="18.06" fill="rgb(252, 235, 235)"/>
<rect x="443.63" y="120.57" width="4.14" height="18.06" fill="rgb(252, 238, 238)"/>
<rect x="447.41" y="120.57" width="4.14" height="18.06" fill="rgb(235, 242, 250)"/>
<rect x="451.20" y="120.57" width="4.14" height="18.06" fill="rgb(220, 230, 245)"/>
<rect x="454.99" y="120.57" width="4.14" height="18.06" fill="rgb(215, 225, 242)"/>
<rect x="458.78" y="120.57" width="4.14" height="18.06" fill="rgb(210, 222, 240)"/>
<rect x="462.57" y="120.57" width="4.14" height="18.06" fill="rgb(30, 85, 180)"/>
<rect x="466.35" y="120.57" width="4.14" height="18.06" fill="rgb(140, 175, 220)"/>
<rect x="470.14" y="120.57" width="4.14" height="18.06" fill="rgb(190, 208, 235)"/>
<rect x="473.93" y="120.57" width="4.14" height="18.06" fill="rgb(185, 203, 232)"/>
<rect x="477.72" y="120.57" width="4.14" height="18.06" fill="rgb(90, 135, 205)"/>
<rect x="481.51" y="120.57" width="4.14" height="18.06" fill="rgb(100, 145, 210)"/>
<rect x="485.29" y="120.57" width="4.14" height="18.06" fill="rgb(210, 222, 240)"/>
<rect x="489.08" y="120.57" width="4.14" height="18.06" fill="rgb(185, 203, 232)"/>
<rect x="492.87" y="120.57" width="4.14" height="18.06" fill="rgb(20, 75, 175)"/>
<rect x="496.66" y="120.57" width="4.14" height="18.06" fill="rgb(250, 250, 252)"/>
<rect x="500.45" y="120.57" width="4.14" height="18.06" fill="rgb(60, 115, 195)"/>
<rect x="504.24" y="120.57" width="4.14" height="18.06" fill="rgb(90, 135, 205)"/>
<rect x="508.02" y="120.57" width="4.14" height="18.06" fill="rgb(140, 175, 220)"/>
<rect x="511.81" y="120.57" width="4.14" height="18.06" fill="rgb(80, 130, 200)"/>
<rect x="292.10" y="138.29" width="4.14" height="18.06" fill="rgb(252, 190, 190)"/>
<rect x="295.89" y="138.29" width="4.14" height="18.06" fill="rgb(250, 175, 175)"/>
<rect x="299.68" y="138.29" width="4.14" height="18.06" fill="rgb(238, 20, 20)"/>
<rect x="303.46" y="138.29" width="4.14" height="18.06" fill="rgb(250, 150, 150)"/>
<rect x="307.25" y="138.29" width="4.14" height="18.06" fill="rgb(245, 135, 135)"/>
<rect x="311.04" y="138.29" width="4.14" height="18.06" fill="rgb(250, 150, 150)"/>
<rect x="314.83" y="138.29" width="4.14" height="18.06" fill="rgb(245, 130, 130)"/>
<rect x="318.62" y="138.29" width="4.14" height="18.06" fill="rgb(245, 125, 125)"/>
<rect x="322.41" y="138.29" width="4.14" height="18.06" fill="rgb(245, 130, 130)"/>
<rect x="326.19" y="138.29" width="4.14" height="18.06" fill="rgb(252, 200, 200)"/>
<rect x="329.98" y="138.29" width="4.14" height="18.06" fill="rgb(252, 195, 195)"/>
<rect x="333.77" y="138.29" width="4.14" height="18.06" fill="rgb(250, 175, 175)"/>
<rect x="337.56" y="138.29" width="4.14" height="18.06" fill="rgb(250, 160, 160)"/>
<rect x="341.35" y="138.29" width="4.14" height="18.06" fill="rgb(245, 110, 110)"/>
<rect x="345.13" y="138.29" width="4.14" height="18.06" fill="rgb(250, 165, 165)"/>
<rect x="348.92" y="138.29" width="4.14" height="18.06" fill="rgb(250, 170, 170)"/>
<rect x="352.71" y="138.29" width="4.14" height="18.06" fill="rgb(245, 110, 110)"/>
<rect x="356.50" y="138.29" width="4.14" height="18.06" fill="rgb(242, 90, 90)"/>
<rect x="360.29" y="138.29" width="4.14" height="18.06" fill="rgb(252, 210, 210)"/>
<rect x="364.07" y="138.29" width="4.14" height="18.06" fill="rgb(245, 130, 130)"/>
<rect x="367.86" y="138.29" width="4.14" height="18.06" fill="rgb(245, 120, 120)"/>
<rect x="371.65" y="138.29" width="4.14" height="18.06" fill="rgb(245, 120, 120)"/>
<rect x="375.44" y="138.29" width="4.14" height="18.06" fill="rgb(245, 110, 110)"/>
<rect x="379.23" y="138.29" width="4.14" height="18.06" fill="rgb(252, 205, 205)"/>
<rect x="383.02" y="138.29" width="4.14" height="18.06" fill="rgb(245, 125, 125)"/>
<rect x="386.80" y="138.29" width="4.14" height="18.06" fill="rgb(252, 215, 215)"/>
<rect x="390.59" y="138.29" width="4.14" height="18.06" fill="rgb(252, 200, 200)"/>
<rect x="394.38" y="138.29" width="4.14" height="18.06" fill="rgb(190, 208, 235)"/>
<rect x="398.17" y="138.29" width="4.14" height="18.06" fill="rgb(245, 130, 130)"/>
<rect x="401.96" y="138.29" width="4.14" height="18.06" fill="rgb(245, 245, 250)"/>
<rect x="405.74" y="138.29" width="4.14" height="18.06" fill="rgb(200, 215, 238)"/>
<rect x="409.53" y="138.29" width="4.14" height="18.06" fill="rgb(220, 230, 245)"/>
<rect x="413.32" y="138.29" width="4.14" height="18.06" fill="rgb(160, 188, 225)"/>
<rect x="417.11" y="138.29" width="4.14" height="18.06" fill="rgb(252, 200, 200)"/>
<rect x="420.90" y="138.29" width="4.14" height="18.06" fill="rgb(140, 175, 220)"/>
<rect x="424.68" y="138.29" width="4.14" height="18.06" fill="rgb(190, 208, 235)"/>
<rect x="428.47" y="138.29" width="4.14" height="18.06" fill="rgb(150, 180, 220)"/>
<rect x="432.26" y="138.29" width="4.14" height="18.06" fill="rgb(150, 180, 220)"/>
<rect x="436.05" y="138.29" width="4.14" height="18.06" fill="rgb(180, 200, 230)"/>
<rect x="439.84" y="138.29" width="4.14" height="18.06" fill="rgb(30, 85, 180)"/>
<rect x="443.63" y="138.29" width="4.14" height="18.06" fill="rgb(140, 175, 220)"/>
<rect x="447.41" y="138.29" width="4.14" height="18.06" fill="rgb(80, 130, 200)"/>
<rect x="451.20" y="138.29" width="4.14" height="18.06" fill="rgb(150, 180, 220)"/>
<rect x="454.99" y="138.29" width="4.14" height="18.06" fill="rgb(90, 135, 205)"/>
<rect x="458.78" y="138.29" width="4.14" height="18.06" fill="rgb(120, 160, 215)"/>
<rect x="462.57" y="138.29" width="4.14" height="18.06" fill="rgb(248, 248, 252)"/>
<rect x="466.35" y="138.29" width="4.14" height="18.06" fill="rgb(20, 75, 175)"/>
<rect x="470.14" y="138.29" width="4.14" height="18.06" fill="rgb(150, 180, 220)"/>
<rect x="473.93" y="138.29" width="4.14" height="18.06" fill="rgb(80, 130, 200)"/>
<rect x="477.72" y="138.29" width="4.14" height="18.06" fill="rgb(100, 145, 210)"/>
<rect x="481.51" y="138.29" width="4.14" height="18.06" fill="rgb(190, 208, 235)"/>
<rect x="485.29" y="138.29" width="4.14" height="18.06" fill="rgb(190, 208, 235)"/>
<rect x="489.08" y="138.29" width="4.14" height="18.06" fill="rgb(80, 130, 200)"/>
<rect x="492.87" y="138.29" width="4.14" height="18.06" fill="rgb(90, 135, 205)"/>
<rect x="496.66" y="138.29" width="4.14" height="18.06" fill="rgb(130, 165, 215)"/>
<rect x="500.45" y="138.29" width="4.14" height="18.06" fill="rgb(130, 165, 215)"/>
<rect x="504.24" y="138.29" width="4.14" height="18.06" fill="rgb(70, 120, 195)"/>
<rect x="508.02" y="138.29" width="4.14" height="18.06" fill="rgb(20, 75, 175)"/>
<rect x="511.81" y="138.29" width="4.14" height="18.06" fill="rgb(140, 175, 220)"/>
<text x="517.2" y="43.46" font-size="6.3" font-weight="bold" text-anchor="start" fill="#2a2a2a" font-style="italic">SEMA3D</text>
<text x="517.2" y="61.17" font-size="6.3" font-weight="bold" text-anchor="start" fill="#2a2a2a" font-style="italic">SEMA3G</text>
<text x="517.2" y="78.89" font-size="6.3" font-weight="bold" text-anchor="start" fill="#2a2a2a" font-style="italic">SEMA3A</text>
<text x="517.2" y="96.6" font-size="6.3" font-weight="bold" text-anchor="start" fill="#2a2a2a" font-style="italic">SEMA3F</text>
<text x="517.2" y="114.31" font-size="6.3" font-weight="bold" text-anchor="start" fill="#2a2a2a" font-style="italic">ITGB3</text>
<text x="517.2" y="132.03" font-size="6.3" font-weight="bold" text-anchor="start" fill="#2a2a2a" font-style="italic">ITGA5</text>
<text x="517.2" y="149.74" font-size="6.3" font-weight="bold" text-anchor="start" fill="#2a2a2a" font-style="italic">VEGFA</text>
<rect x="292.1" y="161" width="113.5" height="3.3" fill="#ff0a0a"/>
<rect x="405.6" y="161" width="110" height="3.3" fill="#2a2aff"/>
<text x="292.4" y="171.2" font-size="6.2" font-weight="bold" text-anchor="start" fill="#000" >High-risk</text>
<text x="515.6" y="170.4" font-size="6.2" font-weight="bold" text-anchor="end" fill="#000" >Low-risk</text>
<defs><linearGradient id="cb" x1="0" y1="0" x2="0" y2="1"><stop offset="0" stop-color="#0a3ca8"/><stop offset="0.25" stop-color="#4a78c4"/><stop offset="0.42" stop-color="#b8c8e6"/><stop offset="0.55" stop-color="#fbf2f2"/><stop offset="0.72" stop-color="#f5a0a0"/><stop offset="0.88" stop-color="#f02020"/><stop offset="1" stop-color="#ee0a0a"/></linearGradient></defs>
<rect x="273.2" y="35.2" width="14.3" height="78.5" fill="url(#cb)"/>
<text x="272.0" y="33.4" font-size="6.3" font-weight="bold" text-anchor="start" fill="#222" textLength="18.5" lengthAdjust="spacingAndGlyphs" >Lower</text>
<text x="270.8" y="119.7" font-size="6.3" font-weight="bold" text-anchor="start" fill="#222" textLength="19.3" lengthAdjust="spacingAndGlyphs" >Higher</text>
<text transform="translate(282.4,98.9) rotate(-90)" font-size="6.1" font-weight="bold" fill="#222" textLength="50.4" lengthAdjust="spacingAndGlyphs">mRNA expression</text>
<text x="13.0" y="217.3" font-size="18" font-weight="bold" text-anchor="start" fill="#000" >C</text>
<polygon points="45.0,263.6 47.6,264.8 50.1,266.1 52.7,267.4 55.3,268.7 57.9,270.0 60.5,271.3 63.0,272.5 65.6,273.8 68.2,275.1 70.8,276.4 73.3,277.6 75.9,278.9 78.5,280.1 81.0,281.4 83.6,282.6 86.2,283.8 88.8,285.1 91.3,286.3 93.9,287.5 96.5,288.7 99.1,289.8 101.7,291.0 104.2,292.1 106.8,293.3 109.4,294.4 112.0,295.5 114.5,296.5 117.1,297.6 119.7,298.6 122.2,299.6 124.8,300.6 127.4,301.6 130.0,302.5 132.6,303.5 135.1,304.4 137.7,305.3 140.3,306.2 142.8,307.1 145.4,308.0 148.0,308.8 150.6,309.7 153.2,310.5 155.7,311.4 158.3,312.2 160.9,313.1 163.4,313.9 166.0,314.8 168.6,315.6 171.2,316.4 173.8,317.2 176.3,318.1 178.9,318.9 181.5,319.7 184.1,320.5 186.6,321.3 189.2,322.1 191.8,323.0 194.3,323.8 196.9,324.6 199.5,325.4 199.5,344.1 196.9,342.8 194.3,341.5 191.8,340.2 189.2,338.9 186.6,337.6 184.1,336.3 181.5,335.0 178.9,333.8 176.3,332.5 173.8,331.2 171.2,329.9 168.6,328.6 166.0,327.3 163.4,326.1 160.9,324.8 158.3,323.5 155.7,322.3 153.2,321.0 150.6,319.8 148.0,318.5 145.4,317.3 142.8,316.1 140.3,314.9 137.7,313.6 135.1,312.4 132.6,311.3 130.0,310.1 127.4,308.9 124.8,307.8 122.2,306.7 119.7,305.6 117.1,304.5 114.5,303.5 112.0,302.4 109.4,301.4 106.8,300.4 104.2,299.4 101.7,298.4 99.1,297.5 96.5,296.6 93.9,295.6 91.3,294.7 88.8,293.8 86.2,293.0 83.6,292.1 81.0,291.2 78.5,290.4 75.9,289.5 73.3,288.6 70.8,287.8 68.2,287.0 65.6,286.1 63.0,285.3 60.5,284.5 57.9,283.6 55.3,282.8 52.7,282.0 50.1,281.2 47.6,280.4 45.0,279.5" fill="#fffadc"/>
<polyline points="45.0,263.6 47.6,264.8 50.1,266.1 52.7,267.4 55.3,268.7 57.9,270.0 60.5,271.3 63.0,272.5 65.6,273.8 68.2,275.1 70.8,276.4 73.3,277.6 75.9,278.9 78.5,280.1 81.0,281.4 83.6,282.6 86.2,283.8 88.8,285.1 91.3,286.3 93.9,287.5 96.5,288.7 99.1,289.8 101.7,291.0 104.2,292.1 106.8,293.3 109.4,294.4 112.0,295.5 114.5,296.5 117.1,297.6 119.7,298.6 122.2,299.6 124.8,300.6 127.4,301.6 130.0,302.5 132.6,303.5 135.1,304.4 137.7,305.3 140.3,306.2 142.8,307.1 145.4,308.0 148.0,308.8 150.6,309.7 153.2,310.5 155.7,311.4 158.3,312.2 160.9,313.1 163.4,313.9 166.0,314.8 168.6,315.6 171.2,316.4 173.8,317.2 176.3,318.1 178.9,318.9 181.5,319.7 184.1,320.5 186.6,321.3 189.2,322.1 191.8,323.0 194.3,323.8 196.9,324.6 199.5,325.4" fill="none" stroke="#888870" stroke-width="0.9" stroke-dasharray="1,1.6"/>
<polyline points="45.0,279.5 47.6,280.4 50.1,281.2 52.7,282.0 55.3,282.8 57.9,283.6 60.5,284.5 63.0,285.3 65.6,286.1 68.2,287.0 70.8,287.8 73.3,288.6 75.9,289.5 78.5,290.4 81.0,291.2 83.6,292.1 86.2,293.0 88.8,293.8 91.3,294.7 93.9,295.6 96.5,296.6 99.1,297.5 101.7,298.4 104.2,299.4 106.8,300.4 109.4,301.4 112.0,302.4 114.5,303.5 117.1,304.5 119.7,305.6 122.2,306.7 124.8,307.8 127.4,308.9 130.0,310.1 132.6,311.3 135.1,312.4 137.7,313.6 140.3,314.9 142.8,316.1 145.4,317.3 148.0,318.5 150.6,319.8 153.2,321.0 155.7,322.3 158.3,323.5 160.9,324.8 163.4,326.1 166.0,327.3 168.6,328.6 171.2,329.9 173.8,331.2 176.3,332.5 178.9,333.8 181.5,335.0 184.1,336.3 186.6,337.6 189.2,338.9 191.8,340.2 194.3,341.5 196.9,342.8 199.5,344.1" fill="none" stroke="#888870" stroke-width="0.9" stroke-dasharray="1,1.6"/>
<path d="M45,271.6 L199.5,334.7" stroke="#505040" stroke-width="1.15"/>
<path d="M81.2,235.7 V346" stroke="#3c3c3c" stroke-width="1.25" stroke-dasharray="1.1,1.9"/>
<path d="M122.2,235.7 V346" stroke="#3c3c3c" stroke-width="1.25" stroke-dasharray="1.1,1.9"/>
<path d="M163.2,235.7 V346" stroke="#3c3c3c" stroke-width="1.25" stroke-dasharray="1.1,1.9"/>
<path d="M42,298.6 H209.5" stroke="#3c3c3c" stroke-width="1.25" stroke-dasharray="1.1,1.9"/>
<path d="M40.4,232.6 V347.4 H212" fill="none" stroke="#000" stroke-width="1.8"/>
<path d="M38,232.6 H40.4" stroke="#000" stroke-width="1.2"/>
<path d="M38,277.4 H40.4" stroke="#000" stroke-width="1.2"/>
<path d="M38,298.4 H40.4" stroke="#000" stroke-width="1.2"/>
<path d="M38,321 H40.4" stroke="#000" stroke-width="1.2"/>
<path d="M40.4,347.4 V350" stroke="#000" stroke-width="1.2"/>
<text x="40.4" y="359.4" font-size="9.0" font-weight="bold" text-anchor="middle" fill="#000" >0</text>
<path d="M74.5,347.4 V350" stroke="#000" stroke-width="1.2"/>
<text x="74.5" y="359.4" font-size="9.0" font-weight="bold" text-anchor="middle" fill="#000" >10</text>
<path d="M108.6,347.4 V350" stroke="#000" stroke-width="1.2"/>
<text x="108.6" y="359.4" font-size="9.0" font-weight="bold" text-anchor="middle" fill="#000" >20</text>
<path d="M142.7,347.4 V350" stroke="#000" stroke-width="1.2"/>
<text x="142.7" y="359.4" font-size="9.0" font-weight="bold" text-anchor="middle" fill="#000" >30</text>
<path d="M176.8,347.4 V350" stroke="#000" stroke-width="1.2"/>
<text x="176.8" y="359.4" font-size="9.0" font-weight="bold" text-anchor="middle" fill="#000" >40</text>
<path d="M210.9,347.4 V350" stroke="#000" stroke-width="1.2"/>
<text x="210.9" y="359.4" font-size="9.0" font-weight="bold" text-anchor="middle" fill="#000" >50</text>
<text x="37.4" y="235.70000000000002" font-size="9.2" font-weight="bold" text-anchor="end" fill="#000" >10</text>
<text x="37.4" y="280.5" font-size="9.2" font-weight="bold" text-anchor="end" fill="#000" >5</text>
<text x="37.4" y="301.5" font-size="9.2" font-weight="bold" text-anchor="end" fill="#000" >2.56</text>
<text x="37.4" y="324.3" font-size="9.2" font-weight="bold" text-anchor="end" fill="#000" >0</text>
<text x="95.0" y="371.6" font-size="9.6" font-weight="bold" text-anchor="start" fill="#000" textLength="64.8" lengthAdjust="spacingAndGlyphs" >Time, months</text>
<text transform="translate(15.3,316.2) rotate(-90)" font-size="10" font-weight="bold" textLength="51.2" lengthAdjust="spacingAndGlyphs">Risk Score</text>
<text x="70.2" y="232.2" font-size="8.3" font-weight="bold" text-anchor="start" fill="#000" textLength="25" lengthAdjust="spacingAndGlyphs" >1-year</text>
<text x="111.2" y="232.2" font-size="8.3" font-weight="bold" text-anchor="start" fill="#000" textLength="25.2" lengthAdjust="spacingAndGlyphs" >2-year</text>
<text x="152.2" y="232.2" font-size="8.3" font-weight="bold" text-anchor="start" fill="#000" textLength="26.2" lengthAdjust="spacingAndGlyphs" >3-year</text>
<circle cx="115.2" cy="313.6" r="2.6" fill="#3ae43a"/><circle cx="115.2" cy="313.6" r="1.25" fill="none" stroke="#a8f2a8" stroke-width="0.6"/>
<circle cx="141.4" cy="307.4" r="2.6" fill="#3ae43a"/><circle cx="141.4" cy="307.4" r="1.25" fill="none" stroke="#a8f2a8" stroke-width="0.6"/>
<circle cx="119.8" cy="321.8" r="2.6" fill="#3ae43a"/><circle cx="119.8" cy="321.8" r="1.25" fill="none" stroke="#a8f2a8" stroke-width="0.6"/>
<circle cx="104.4" cy="326" r="2.6" fill="#3ae43a"/><circle cx="104.4" cy="326" r="1.25" fill="none" stroke="#a8f2a8" stroke-width="0.6"/>
<circle cx="111" cy="334.6" r="2.6" fill="#3ae43a"/><circle cx="111" cy="334.6" r="1.25" fill="none" stroke="#a8f2a8" stroke-width="0.6"/>
<circle cx="117.4" cy="337.4" r="2.6" fill="#3ae43a"/><circle cx="117.4" cy="337.4" r="1.25" fill="none" stroke="#a8f2a8" stroke-width="0.6"/>
<circle cx="130" cy="324" r="2.6" fill="#3ae43a"/><circle cx="130" cy="324" r="1.25" fill="none" stroke="#a8f2a8" stroke-width="0.6"/>
<circle cx="136.4" cy="320.6" r="2.6" fill="#3ae43a"/><circle cx="136.4" cy="320.6" r="1.25" fill="none" stroke="#a8f2a8" stroke-width="0.6"/>
<circle cx="138.6" cy="327.4" r="2.6" fill="#3ae43a"/><circle cx="138.6" cy="327.4" r="1.25" fill="none" stroke="#a8f2a8" stroke-width="0.6"/>
<circle cx="147" cy="325" r="2.6" fill="#3ae43a"/><circle cx="147" cy="325" r="1.25" fill="none" stroke="#a8f2a8" stroke-width="0.6"/>
<circle cx="176" cy="321" r="2.6" fill="#3ae43a"/><circle cx="176" cy="321" r="1.25" fill="none" stroke="#a8f2a8" stroke-width="0.6"/>
<circle cx="178" cy="324" r="2.6" fill="#3ae43a"/><circle cx="178" cy="324" r="1.25" fill="none" stroke="#a8f2a8" stroke-width="0.6"/>
<circle cx="168" cy="328" r="2.6" fill="#3ae43a"/><circle cx="168" cy="328" r="1.25" fill="none" stroke="#a8f2a8" stroke-width="0.6"/>
<circle cx="193" cy="324.4" r="2.6" fill="#3ae43a"/><circle cx="193" cy="324.4" r="1.25" fill="none" stroke="#a8f2a8" stroke-width="0.6"/>
<circle cx="199.6" cy="333" r="2.6" fill="#3ae43a"/><circle cx="199.6" cy="333" r="1.25" fill="none" stroke="#a8f2a8" stroke-width="0.6"/>
<circle cx="82" cy="297" r="2.6" fill="#3c4cf0"/><circle cx="82" cy="297" r="1.25" fill="none" stroke="#a8b0f8" stroke-width="0.6"/>
<circle cx="134" cy="326.6" r="2.6" fill="#3c4cf0"/><circle cx="134" cy="326.6" r="1.25" fill="none" stroke="#a8b0f8" stroke-width="0.6"/>
<circle cx="173.6" cy="314" r="2.6" fill="#3c4cf0"/><circle cx="173.6" cy="314" r="1.25" fill="none" stroke="#a8b0f8" stroke-width="0.6"/>
<circle cx="173.6" cy="321" r="2.6" fill="#3c4cf0"/><circle cx="173.6" cy="321" r="1.25" fill="none" stroke="#a8b0f8" stroke-width="0.6"/>
<circle cx="169" cy="324.4" r="2.6" fill="#3c4cf0"/><circle cx="169" cy="324.4" r="1.25" fill="none" stroke="#a8b0f8" stroke-width="0.6"/>
<circle cx="79.8" cy="266.3" r="2.6" fill="#b8303a"/><circle cx="79.8" cy="266.3" r="1.25" fill="none" stroke="#e8a8ac" stroke-width="0.6"/>
<circle cx="85.6" cy="269.6" r="2.6" fill="#b8303a"/><circle cx="85.6" cy="269.6" r="1.25" fill="none" stroke="#e8a8ac" stroke-width="0.6"/>
<circle cx="118.2" cy="277.6" r="2.6" fill="#b8303a"/><circle cx="118.2" cy="277.6" r="1.25" fill="none" stroke="#e8a8ac" stroke-width="0.6"/>
<circle cx="135.5" cy="276.3" r="2.6" fill="#b8303a"/><circle cx="135.5" cy="276.3" r="1.25" fill="none" stroke="#e8a8ac" stroke-width="0.6"/>
<circle cx="131.6" cy="292.4" r="2.6" fill="#b8303a"/><circle cx="131.6" cy="292.4" r="1.25" fill="none" stroke="#e8a8ac" stroke-width="0.6"/>
<circle cx="133" cy="298" r="2.6" fill="#b8303a"/><circle cx="133" cy="298" r="1.25" fill="none" stroke="#e8a8ac" stroke-width="0.6"/>
<circle cx="87.4" cy="301.6" r="2.6" fill="#b8303a"/><circle cx="87.4" cy="301.6" r="1.25" fill="none" stroke="#e8a8ac" stroke-width="0.6"/>
<circle cx="99.4" cy="304.4" r="2.6" fill="#b8303a"/><circle cx="99.4" cy="304.4" r="1.25" fill="none" stroke="#e8a8ac" stroke-width="0.6"/>
<circle cx="124.6" cy="322.2" r="2.6" fill="#b8303a"/><circle cx="124.6" cy="322.2" r="1.25" fill="none" stroke="#e8a8ac" stroke-width="0.6"/>
<circle cx="167" cy="305.6" r="2.6" fill="#b8303a"/><circle cx="167" cy="305.6" r="1.25" fill="none" stroke="#e8a8ac" stroke-width="0.6"/>
<circle cx="93.6" cy="252.8" r="2.2" fill="#b80808"/>
<circle cx="65" cy="259" r="2.2" fill="#b80808"/>
<circle cx="62" cy="263.6" r="2.2" fill="#b80808"/>
<circle cx="109.4" cy="260.6" r="2.2" fill="#b80808"/>
<circle cx="45.6" cy="270" r="2.2" fill="#b80808"/>
<circle cx="49.6" cy="273.4" r="2.2" fill="#b80808"/>
<circle cx="78.4" cy="265.6" r="2.2" fill="#b80808"/>
<circle cx="84.3" cy="271" r="2.2" fill="#b80808"/>
<circle cx="97.6" cy="267.4" r="2.2" fill="#b80808"/>
<circle cx="94.9" cy="274.2" r="2.2" fill="#b80808"/>
<circle cx="85.6" cy="277.6" r="2.2" fill="#b80808"/>
<circle cx="87.9" cy="279" r="2.2" fill="#b80808"/>
<circle cx="97.6" cy="280.6" r="2.2" fill="#b80808"/>
<circle cx="115.5" cy="277.6" r="2.2" fill="#b80808"/>
<circle cx="79.6" cy="285.4" r="2.2" fill="#b80808"/>
<circle cx="85.9" cy="285.8" r="2.2" fill="#b80808"/>
<circle cx="64.8" cy="289.6" r="2.2" fill="#b80808"/>
<circle cx="81.6" cy="290.4" r="2.2" fill="#b80808"/>
<circle cx="76.4" cy="291.4" r="2.2" fill="#b80808"/>
<circle cx="67.4" cy="295.4" r="2.2" fill="#b80808"/>
<circle cx="93" cy="296.6" r="2.2" fill="#b80808"/>
<circle cx="115" cy="293.4" r="2.2" fill="#b80808"/>
<circle cx="88" cy="299" r="2.2" fill="#b80808"/>
<circle cx="113.6" cy="298.6" r="2.2" fill="#b80808"/>
<circle cx="90.6" cy="311.6" r="2.2" fill="#b80808"/>
<circle cx="77" cy="318" r="2.0" fill="#08c008"/>
<circle cx="113.9" cy="320" r="2.0" fill="#08c008"/>
<circle cx="94" cy="309.4" r="2.0" fill="#1010e8"/>
<text x="183.2" y="247.4" font-size="8.2" font-weight="bold" text-anchor="start" fill="#1a1a1a" textLength="54.8" lengthAdjust="spacingAndGlyphs" >Glioma grade</text>
<circle cx="182.8" cy="251.8" r="1.5" fill="#08c008"/>
<text x="189.4" y="254.6" font-size="8.2" font-weight="normal" text-anchor="start" fill="#1e1e1e" textLength="4.6" lengthAdjust="spacingAndGlyphs" >II</text>
<circle cx="182.8" cy="259.4" r="2.0" fill="#48e848"/>
<text x="189.4" y="262.2" font-size="8.2" font-weight="normal" text-anchor="start" fill="#1e1e1e" textLength="41.4" lengthAdjust="spacingAndGlyphs" >II-censored</text>
<circle cx="182.8" cy="267.0" r="1.5" fill="#1010e8"/>
<text x="189.4" y="269.8" font-size="8.2" font-weight="normal" text-anchor="start" fill="#1e1e1e" textLength="6.9" lengthAdjust="spacingAndGlyphs" >III</text>
<circle cx="182.8" cy="274.6" r="2.0" fill="#5050f0"/>
<text x="189.4" y="277.4" font-size="8.2" font-weight="normal" text-anchor="start" fill="#1e1e1e" textLength="43.7" lengthAdjust="spacingAndGlyphs" >III-censored</text>
<circle cx="182.8" cy="282.2" r="1.5" fill="#b80808"/>
<text x="189.4" y="285.0" font-size="8.2" font-weight="normal" text-anchor="start" fill="#1e1e1e" textLength="7.8" lengthAdjust="spacingAndGlyphs" >IV</text>
<circle cx="182.8" cy="289.8" r="2.0" fill="#bb4a50"/>
<text x="189.4" y="292.6" font-size="8.2" font-weight="normal" text-anchor="start" fill="#1e1e1e" textLength="44.6" lengthAdjust="spacingAndGlyphs" >IV-censored</text>
<text x="274.2" y="216.7" font-size="18" font-weight="bold" text-anchor="start" fill="#000" >D</text>
<path d="M307.7,226.3 V347.9" fill="none" stroke="#666" stroke-width="1.1"/>
<path d="M307.2,347.8 H445" fill="none" stroke="#555" stroke-width="1.7"/>
<path d="M306,226.8 H307.7" stroke="#555" stroke-width="1"/>
<path d="M305.5,287.6 H307.6" stroke="#333" stroke-width="1"/>
<path d="M369,347.9 V350" stroke="#333" stroke-width="1"/>
<path d="M429.6,347.9 V350" stroke="#333" stroke-width="1"/>
<path d="M307.6,347.9 L429.6,227" stroke="#333" stroke-width="1.25"/>
<path d="M307.8,347.9 V311 H313.8 V279.5 H320 V267.2 H326 V254.8 H338 V245.7 H344.5 V239.5 H362.5 V236.5 H399.5 V233.2 H430 V226.8" fill="none" stroke="#b81c1c" stroke-width="1.4"/>
<path d="M307.8,347.9 V266.5 H320.5 V256.8 H332 V249 H356.6 V241.8 H393.3 V234.2 L399,233 L405,231.5 H429.5 V226.8" fill="none" stroke="#22cc22" stroke-width="1.4"/>
<path d="M307.8,347.9 L310.5,347 V336.5 H313 V304 H318 V293 H320.5 V281.8 H338.5 V271 H341 V259.5 H343.3 V248.8 H348.5 V237.8 H381.5 V226.8 H430" fill="none" stroke="#2020ff" stroke-width="1.4"/>
<text x="305.6" y="230.4" font-size="9.1" font-weight="bold" text-anchor="end" fill="#000" >100</text>
<text x="305.6" y="290.90000000000003" font-size="9.1" font-weight="bold" text-anchor="end" fill="#000" >50</text>
<text x="305.6" y="351.5" font-size="9.1" font-weight="bold" text-anchor="end" fill="#000" >0</text>
<text x="307.7" y="358.9" font-size="9.1" font-weight="bold" text-anchor="middle" fill="#000" >0</text>
<text x="369" y="358.9" font-size="9.1" font-weight="bold" text-anchor="middle" fill="#000" >50</text>
<text x="429.9" y="358.9" font-size="9.1" font-weight="bold" text-anchor="middle" fill="#000" >100</text>
<text x="352.4" y="371.8" font-size="9.5" font-weight="bold" text-anchor="start" fill="#000" textLength="93.8" lengthAdjust="spacingAndGlyphs" >100% - Specificity%</text>
<text transform="translate(286.0,315.8) rotate(-90)" font-size="10" font-weight="bold" textLength="65" lengthAdjust="spacingAndGlyphs">Sensitivity, %</text>
<path d="M359.1,315.7 H365" stroke="#2020ff" stroke-width="1.4"/>
<text x="368.9" y="318.6" font-size="8.2" font-weight="normal" text-anchor="start" fill="#222" textLength="100.2" lengthAdjust="spacingAndGlyphs" >1-year survival, AUC: 0.81</text>
<path d="M359.1,323.95 H365" stroke="#b81c1c" stroke-width="1.4"/>
<text x="368.9" y="326.9" font-size="8.2" font-weight="normal" text-anchor="start" fill="#222" textLength="100.2" lengthAdjust="spacingAndGlyphs" >2-year survival, AUC: 0.85</text>
<path d="M359.1,332.2 H365" stroke="#22cc22" stroke-width="1.4"/>
<text x="368.9" y="335.2" font-size="8.2" font-weight="normal" text-anchor="start" fill="#222" textLength="100.2" lengthAdjust="spacingAndGlyphs" >3-year survival, AUC: 0.86</text>
</svg></body></html>
